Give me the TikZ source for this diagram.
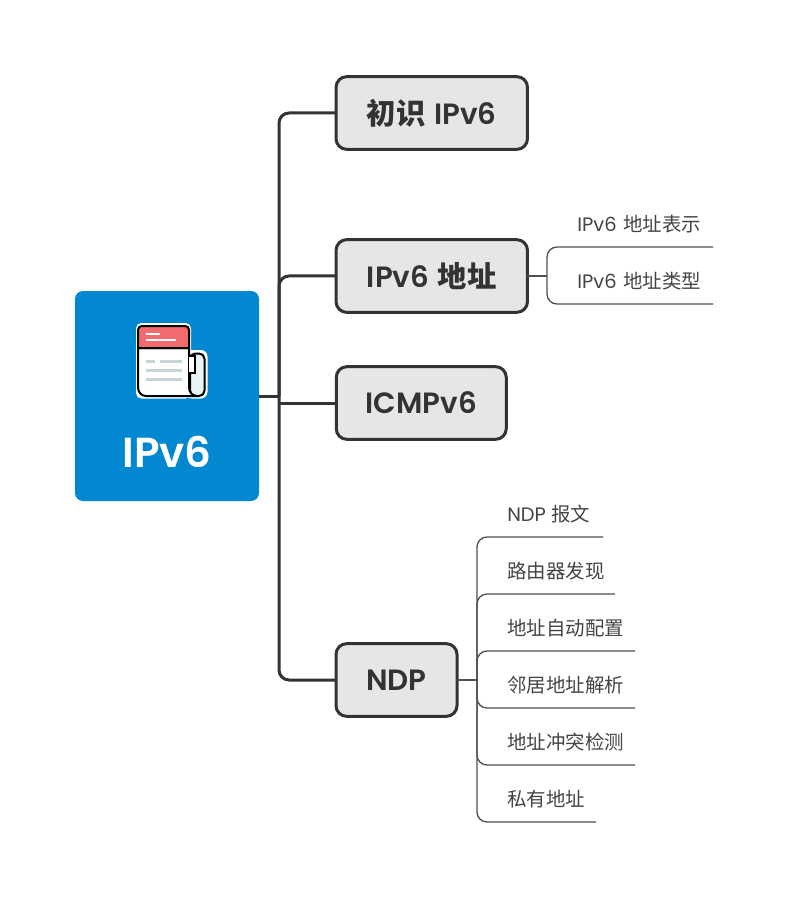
\documentclass[tikz,border=0pt]{standalone}
\usepackage{fontspec}
\setmainfont{Poppins}[BoldFont={Poppins SemiBold}]
\newfontfamily\cjk{Noto Sans CJK SC}
\begin{document}
\begin{tikzpicture}[x=0.75pt,y=-0.75pt,
    box/.style={draw=boxline,fill=boxfill,line width=2.25pt,rounded corners=8pt,
        minimum height=54.5pt,inner sep=0pt,outer sep=0pt,text=textdark,
        font=\fontsize{22}{26}\selectfont\bfseries},
    sub/.style={anchor=west,inner sep=0pt,text=textsub,font=\fontsize{14.6}{18}\selectfont},
    trunk/.style={draw=boxline,line width=2.25pt,rounded corners=7.5pt},
    twig/.style={draw=twigline,line width=1pt,rounded corners=7.5pt},
    ink/.style={draw=black,line width=1.5pt,line join=round}]
  \definecolor{boxline}{HTML}{333333}
  \definecolor{boxfill}{HTML}{E6E6E6}
  \definecolor{textdark}{HTML}{333333}
  \definecolor{textsub}{HTML}{444444}
  \definecolor{twigline}{HTML}{505050}
  \definecolor{rootblue}{HTML}{0288D1}
  \definecolor{headred}{HTML}{F06A6E}
  \definecolor{paperline}{HTML}{C5D5D8}
  \definecolor{rollfill}{HTML}{E8F3F3}
  \useasboundingbox (0,0) rectangle (787,898);

  % root
  \node[fill=rootblue,rounded corners=6pt,minimum width=138pt,minimum height=157.5pt,
      inner sep=0pt,outer sep=0pt] (root) at (167,396) {};
  \node[text=white,inner sep=0pt,font=\fontsize{31.5}{36}\selectfont\bfseries] (rootlabel) at (167,452) {IPv6};

  % icon
  \fill[white,rounded corners=4pt] (136,323) rectangle (191,398.5);
  \fill[white,rounded corners=5pt] (185,350) rectangle (207.5,398.5);
  \path[ink,fill=rollfill,rounded corners=4pt] (190,353.5) -- (204.5,353.5) -- (204.5,396) -- (190,396) -- cycle;
  \path[ink,fill=white] (138,348) -- (189,348) -- (189,387) .. controls (189,392) and (192,396) .. (197,396)
      -- (146,396) .. controls (141,396) and (138,392) .. (138,387) -- cycle;
  \path[ink,fill=headred] (138,348) -- (138,330) .. controls (138,327.5) and (139.5,326) .. (142,326)
      -- (185,326) .. controls (187.5,326) and (189,327.5) .. (189,330) -- (189,348) -- cycle;
  \draw[white,line width=1.2pt] (146,334) -- (160,334) (146,340) -- (176,340);
  \draw[paperline,line width=1.6pt] (146,361.5) -- (155,361.5) (160,361.5) -- (182,361.5)
      (146,370.5) -- (182,370.5) (146,379.5) -- (182,379.5);
  \path[draw=black,line width=1.2pt,fill=white] (189,356) -- (195,356) -- (195,373) -- (189,373);

  % main branches
  \node[box,minimum width=143.6pt] (intro) at (431.75,113) {{\cjk 初识}\hspace{6.5pt}IPv6};
  \node[box,minimum width=143.6pt] (addr) at (431.75,276) {IPv6\hspace{6.5pt}{\cjk 地址}};
  \node[box,minimum width=127.5pt] (icmp) at (421.25,403) {ICMPv6};
  \node[box,minimum width=90.75pt] (ndp) at (396.5,680) {NDP};

  \coordinate (hub) at (279,396);
  \draw[trunk] (root.east) -- (hub);
  \draw[trunk] (hub) |- (intro.west);
  \draw[trunk] (hub) |- (addr.west);
  \draw[trunk,sharp corners] (hub |- icmp.west) -- (icmp.west);
  \draw[trunk] (hub) |- (ndp.west);

  % address leaves
  \node[sub] (a1) at (577,224) {IPv6\hspace{5pt}{\cjk 地址表示}};
  \node[sub] (a2) at (577,281) {IPv6\hspace{5pt}{\cjk 地址类型}};
  \coordinate (addrhub) at (547,276);
  \coordinate (a1end) at (713,247);
  \coordinate (a2end) at (713,304);
  \draw[twig] (addr.east) -- (addrhub);
  \draw[twig] (addrhub) |- (a1end);
  \draw[twig] (addrhub) |- (a2end);

  % ndp leaves
  \node[sub] (n1) at (507,514) {NDP {\cjk 报文}};
  \node[sub] (n2) at (507,571) {\cjk 路由器发现};
  \node[sub] (n3) at (507,628) {\cjk 地址自动配置};
  \node[sub] (n4) at (507,685) {\cjk 邻居地址解析};
  \node[sub] (n5) at (507,742) {\cjk 地址冲突检测};
  \node[sub] (n6) at (507,799) {\cjk 私有地址};
  \coordinate (ndphub) at (477,680);
  \coordinate (n1end) at (603,537);
  \coordinate (n2end) at (615,594);
  \coordinate (n3end) at (635,651);
  \coordinate (n4end) at (635,708);
  \coordinate (n5end) at (635,765);
  \coordinate (n6end) at (596,822);
  \draw[twig] (ndp.east) -- (ndphub);
  \foreach \e in {n1end,n2end,n3end,n4end,n5end,n6end}
    \draw[twig] (ndphub) |- (\e);
\end{tikzpicture}
\end{document}
